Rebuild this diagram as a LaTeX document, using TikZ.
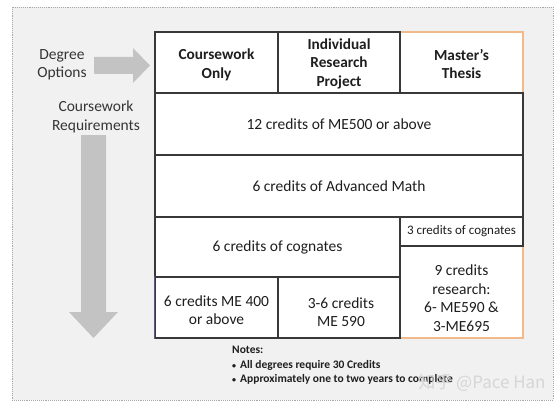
\documentclass[tikz,border=0pt]{standalone}
\usepackage{fontspec}
\setmainfont{Carlito}
\newfontfamily\cjkfont{Noto Sans CJK SC}
\definecolor{bg}{HTML}{F1F1F1}
\definecolor{ln}{HTML}{383838}
\definecolor{lnp}{HTML}{5E5878}
\definecolor{org}{HTML}{F2B98A}
\definecolor{arr}{HTML}{C3C3C3}
\definecolor{txt}{HTML}{1E1E1E}
\definecolor{frame}{HTML}{A8A8A8}
\begin{document}
\begin{tikzpicture}[x=1pt,y=-1pt,
  cell/.style={draw=ln, line width=1.4pt, fill=white, inner sep=0pt, align=center,
    text=txt, font=\fontsize{15.5}{18.5}\selectfont},
  headcell/.style={cell, font=\bfseries\fontsize{15.3}{18.5}\selectfont},
  orangecell/.style={cell, draw=org},
  label/.style={text=txt!90!white, align=center, font=\fontsize{15.5}{18.5}\selectfont},
  bigarrow/.style={fill=arr, draw=none}]
\useasboundingbox (0,0) rectangle (560,404);
\fill[white] (0,0) rectangle (560,404);
\draw[frame, fill=bg, line width=0.9pt, densely dotted] (12,7) rectangle (553,400);

% orange cells first
\node[orangecell, minimum width=123pt, minimum height=61pt] (mt) at (461.5,62.5) {};
\node[orangecell, minimum width=123pt, minimum height=92pt] (res9) at (461.5,292) {};

% header row
\node[headcell, minimum width=123pt, minimum height=61pt] (co) at (216.5,62.5) {};
\node[headcell, minimum width=122pt, minimum height=61pt] (irp) at (339,62.5) {};
\node[headcell, draw=none, fill=none] at (216.5,65) {Coursework\\Only};
\node[headcell, draw=none, fill=none] at (339,63.5) {Individual\\Research\\Project};
\node[headcell, draw=none, fill=none] at (461.5,64) {Master's\\Thesis};

% full rows
\node[cell, minimum width=368pt, minimum height=62pt] (r12) at (339,124) {12 credits of ME500 or above};
\node[cell, minimum width=368pt, minimum height=62pt] (rmath) at (339,186) {6 credits of Advanced Math};
\node[cell, minimum width=245pt, minimum height=60pt] (cog6) at (277.5,247) {6 credits of cognates};
\node[cell, minimum width=123pt, minimum height=29pt, font=\fontsize{13}{15}\selectfont] (cog3) at (461.5,231.5) {3 credits of cognates};

% bottom row
\node[cell, minimum width=123pt, minimum height=61pt] (me400) at (216.5,307.5) {};
\draw[lnp, line width=1.4pt] (me400.north west) -- (me400.south west);
\node[cell, draw=none, fill=none] at (216.5,310) {6 credits ME 400\\or above};
\node[cell, minimum width=122pt, minimum height=61pt] (me590) at (339,307.5) {};
\node[cell, draw=none, fill=none] at (341,312) {3-6 credits\\ME 590};
\draw[ln, line width=1.4pt] (res9.north west) -- (res9.north east);
\draw[ln, line width=1.4pt] (res9.north west) -- (res9.south west);
\node[cell, draw=none, fill=none] at (461.5,298) {9 credits\\research:\\6- ME590 \&\\3-ME695};

% labels and arrows
\node[label] (deg) at (62,65) {Degree\\Options};
\node[label] (req) at (96,117) {Coursework\\Requirements};
\fill[bigarrow] (94,57) -- (133,57) -- (133,48) -- (150,65.5) -- (133,83) -- (133,74) -- (94,74) -- cycle;
\fill[bigarrow] (81,135) -- (106,135) -- (106,312) -- (118,312) -- (93.5,338) -- (69,312) -- (81,312) -- cycle;

% notes
\node[anchor=north west, align=left, text=txt, inner sep=0pt,
  font=\bfseries\fontsize{11.5}{14.5}\selectfont] (notes) at (232,346)
  {Notes:\\{\footnotesize\textbullet}\hspace{4pt}All degrees require 30 Credits\\{\footnotesize\textbullet}\hspace{4pt}Approximately one to two years to complete};

% watermark
\node[text=white!68!gray, font=\cjkfont\fontsize{17}{18}\selectfont, inner sep=0pt] (wm) at (482,383) {知乎 @Pace Han};
\end{tikzpicture}
\end{document}
